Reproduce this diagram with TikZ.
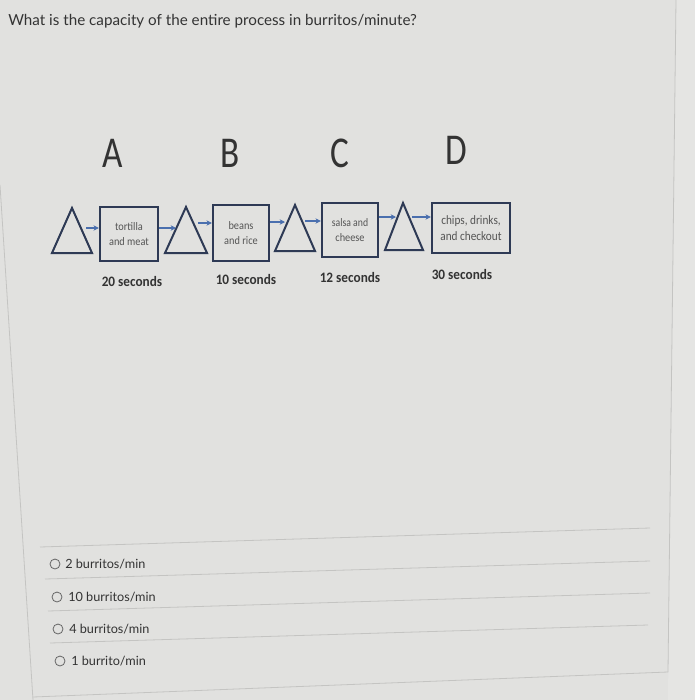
\documentclass[tikz,border=0pt]{standalone}
\usepackage{fontspec}
\setmainfont{Lato}
\newfontfamily\carl{Carlito}
\usetikzlibrary{arrows.meta}
\definecolor{bgc}{HTML}{E1E1DF}
\definecolor{navy}{HTML}{2E3A55}
\definecolor{arrc}{HTML}{4A6FAE}
\definecolor{txt}{HTML}{333333}
\definecolor{boxtxt}{HTML}{555555}
\definecolor{sep}{HTML}{C4C4C2}
\newcommand{\narrow}[2]{\scalebox{#1}[1]{#2}}
\tikzset{
  tri/.style={draw=navy, line width=1.5pt, line join=miter},
  stationbox/.style={draw=navy, line width=1.8pt, inner sep=0pt, align=center,
    font=\carl\fontsize{8.6}{11.5}\selectfont, text=boxtxt},
  flow/.style={draw=arrc, line width=1.1pt, -{Stealth[length=4pt,width=4pt]}},
  letter/.style={font=\carl\fontsize{33}{36}\selectfont, text=txt},
  secs/.style={font=\carl\bfseries\fontsize{10.8}{12}\selectfont, text=txt},
  opt/.style={anchor=west, font=\fontsize{9.5}{11}\selectfont, text=txt, inner sep=0pt},
  radio/.style={draw=gray!80!black, line width=0.6pt, circle, minimum size=7.5pt, inner sep=0pt},
  sepline/.style={draw=sep, line width=0.6pt}
}
\begin{document}
\begin{tikzpicture}[x=0.75pt,y=-0.75pt]
\useasboundingbox (0,0) rectangle (695,700);
\fill[bgc] (0,0) rectangle (695,700);
\fill[white, opacity=0.15] (676,0) -- (695,0) -- (695,700) -- (668,700) -- cycle;
% panel borders
\draw[sepline] (676,0) -- (668,672);
\draw[sepline] (0,185) -- (33,700);
\draw[sepline] (33,697) -- (668,672);
% title
\node[anchor=base west, inner sep=0pt, text=txt, font=\fontsize{11.4}{14}\selectfont] (title) at (8,25) {What is the capacity of the entire process in burritos/minute?};
% letters
\node[letter] (A) at (113,153) {\narrow{0.8}{A}};
\node[letter] (B) at (230,153) {\narrow{0.8}{B}};
\node[letter] (C) at (340,153) {\narrow{0.8}{C}};
\node[letter] (D) at (456,150) {\narrow{0.8}{D}};
% triangles
\draw[tri] (52,253) -- (72,208) -- (92,253) -- cycle;
\draw[tri] (165,253) -- (186,207) -- (207,253) -- cycle;
\draw[tri] (275,251) -- (295,205) -- (315,251) -- cycle;
\draw[tri] (385,250) -- (403,203) -- (423,250) -- cycle;
% boxes
\node[stationbox, minimum width=43.5pt, minimum height=40.5pt] (b1) at (129,234) {\narrow{0.9}{tortilla}\\\narrow{0.9}{and meat}};
\node[stationbox, minimum width=42pt, minimum height=42pt] (b2) at (241,233) {\narrow{0.9}{beans}\\\narrow{0.9}{and rice}};
\node[stationbox, minimum width=42pt, minimum height=40.5pt] (b3) at (350,230) {\narrow{0.85}{salsa and}\\\narrow{0.9}{cheese}};
\node[stationbox, minimum width=58.5pt, minimum height=37.5pt, font=\carl\fontsize{9.6}{12.5}\selectfont] (b4) at (471,228) {\narrow{0.88}{chips, drinks,}\\\narrow{0.88}{and checkout}};
% arrow endpoints
\coordinate (t1o) at (86,228);
\coordinate (t2i) at (176,228);
\coordinate (t2o) at (198,223);
\coordinate (t3i) at (285,222);
\coordinate (t3o) at (305,221);
\coordinate (t4i) at (396,217);
\coordinate (t4o) at (412,217);
\draw[flow] (t1o) -- (b1.west |- t1o);
\draw[flow] (b1.east |- t2i) -- (t2i);
\draw[flow] (t2o) -- (b2.west |- t2o);
\draw[flow] (b2.east |- t3i) -- (t3i);
\draw[flow] (t3o) -- (b3.west |- t3o);
\draw[flow] (b3.east |- t4i) -- (t4i);
\draw[flow] (t4o) -- (b4.west |- t4o);
% times
\node[secs] (s1) at (132,281) {\narrow{0.92}{20 seconds}};
\node[secs] (s2) at (246,279) {\narrow{0.92}{10 seconds}};
\node[secs] (s3) at (350,277) {\narrow{0.92}{12 seconds}};
\node[secs] (s4) at (462,274) {\narrow{0.92}{30 seconds}};
% answer separators
\draw[sepline] (40,547) -- (650,528);
\draw[sepline] (45,579) -- (650,561);
\draw[sepline] (48,611) -- (650,593);
\draw[sepline] (50,643) -- (648,625);
% options
\node[radio] (r1) at (55,564) {};
\node[opt] (o1) at (65,564) {2 burritos/min};
\node[radio] (r2) at (57,597) {};
\node[opt] (o2) at (68,597) {10 burritos/min};
\node[radio] (r3) at (58,629) {};
\node[opt] (o3) at (69,629) {4 burritos/min};
\node[radio] (r4) at (60,661) {};
\node[opt] (o4) at (71,661) {1 burrito/min};
\end{tikzpicture}
\end{document}
